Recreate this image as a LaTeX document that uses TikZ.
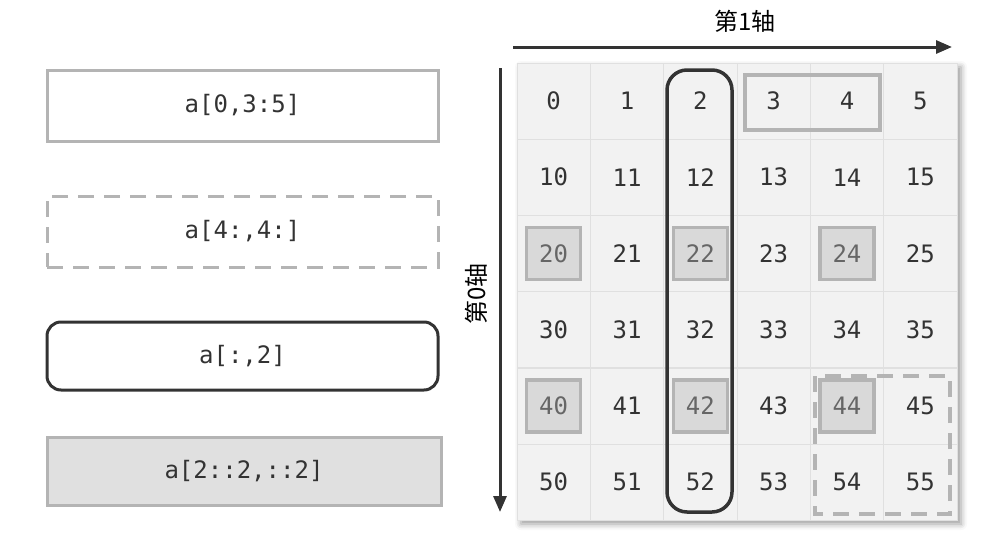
\documentclass[tikz,border=0pt]{standalone}
\usepackage{fontspec}
\setmonofont{DejaVu Sans Mono}
\newfontfamily\cjk{Noto Sans CJK SC}
\usetikzlibrary{arrows.meta,shadows.blur}
\definecolor{dk}{HTML}{333333}
\definecolor{lg}{HTML}{B4B4B4}
\begin{document}
\begin{tikzpicture}[x=1pt,y=-1pt,
  lbl/.style={font=\ttfamily\fontsize{24}{28}\selectfont,text=dk},
  cell/.style={draw=black!12,fill=black!5,minimum width=73.3pt,minimum height=76pt,inner sep=0,font=\ttfamily\fontsize{24}{28}\selectfont,text=dk},
  hl/.style={draw=lg,line width=3.5pt,fill=black!15,minimum width=54pt,minimum height=52pt,inner sep=0},
  axis/.style={draw=dk,line width=3pt,-{Triangle[length=16pt,width=13pt]}}]
\useasboundingbox (0,0) rectangle (987,554);
% left boxes
\node[lbl,draw=lg,line width=3pt,minimum width=391pt,minimum height=71pt] (b1) at (242.5,105.5) {a[0,3:5]};
\node[lbl,draw=lg,line width=3pt,dash pattern=on 16pt off 10pt,minimum width=391pt,minimum height=71pt] (b2) at (242.5,231.5) {a[4:,4:]};
\node[lbl,draw=dk,line width=3pt,rounded corners=14pt,minimum width=391pt,minimum height=68pt] (b3) at (242.5,356) {a[:,2]};
\node[lbl,draw=lg,fill=black!12,line width=3pt,minimum width=394pt,minimum height=68pt] (b4) at (244,471) {a[2::2,::2]};
% grid shadow
\node[fill=black!5,minimum width=440pt,minimum height=457pt,inner sep=0,blur shadow={shadow xshift=4pt,shadow yshift=-4pt,shadow blur radius=6pt,shadow opacity=40}] (gbg) at (737,291.5) {};
\foreach \r in {0,...,5}{\foreach \c in {0,...,5}{
  \ifnum\r=0 \def\lab{\c}\else\def\lab{\r\c}\fi
  \node[cell] (c\r\c) at ({517+73.33*(\c+0.5)},{63+76.17*(\r+0.5)}) {\lab};}}
% highlighted cells
\foreach \n in {20,22,24,40,42,44}{\node[hl,font=\ttfamily\fontsize{24}{28}\selectfont,text=black!60] at (c\n) {\n};}
% slice boxes
\draw[lg,line width=4pt] (745,75) rectangle (880,130);
\draw[dk,line width=3.5pt,rounded corners=20pt] (667,70) rectangle (732,512);
\draw[lg,line width=3.5pt,dash pattern=on 16pt off 10pt] (815,376) rectangle (950,514);
% axes
\coordinate (h0) at (513,47); \coordinate (h1) at (952,47);
\coordinate (v0) at (500,68); \coordinate (v1) at (500,512);
\draw[axis] (h0) -- (h1);
\draw[axis] (v0) -- (v1);
\node[font=\cjk\fontsize{24}{28}\selectfont,text=black] (t1) at (745,21) {第1轴};
\node[font=\cjk\fontsize{24}{28}\selectfont,text=black,rotate=90] (t0) at (476,294) {第0轴};
\end{tikzpicture}
\end{document}
